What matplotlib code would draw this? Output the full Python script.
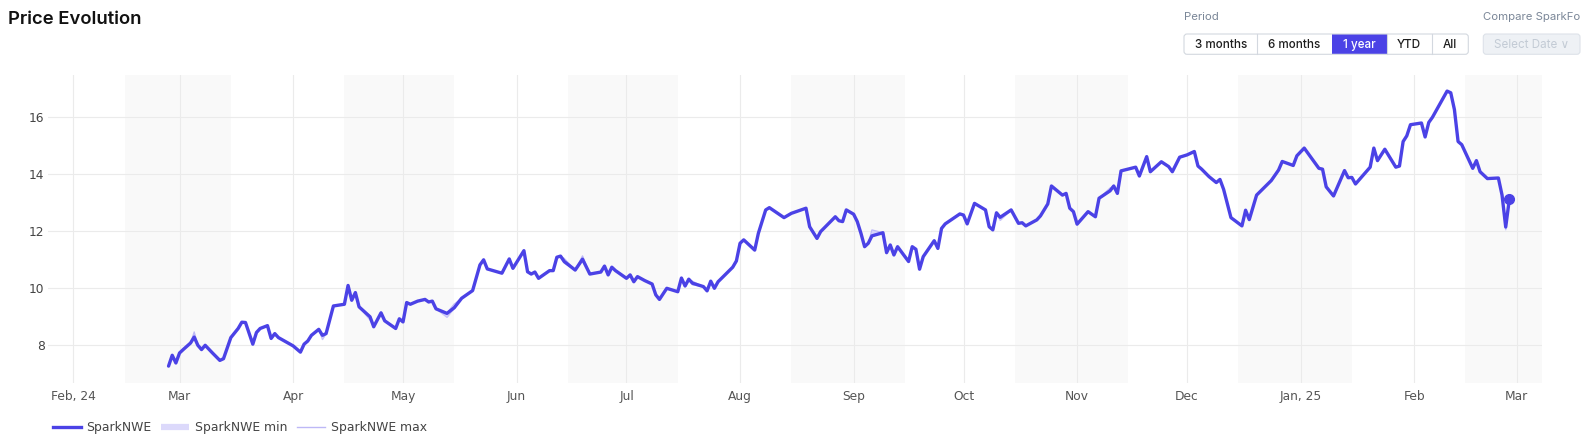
import numpy as np
import pandas as pd
import matplotlib
matplotlib.use("Agg")
import matplotlib.pyplot as plt
import matplotlib.dates as mdates
from matplotlib.lines import Line2D
from matplotlib.patches import FancyBboxPatch, Rectangle

W, H = 1591, 445
PURPLE = "#4b42e6"

# SparkNWE price vertices
nwe_dates = [
    "2024-02-27", "2024-02-28", "2024-02-29", "2024-03-01", "2024-03-02", "2024-03-04",
    "2024-03-05", "2024-03-06", "2024-03-07", "2024-03-08", "2024-03-10", "2024-03-12",
    "2024-03-13", "2024-03-15", "2024-03-17", "2024-03-18", "2024-03-19", "2024-03-21",
    "2024-03-22", "2024-03-23", "2024-03-25", "2024-03-26", "2024-03-27", "2024-03-28",
    "2024-04-01", "2024-04-03", "2024-04-04", "2024-04-05", "2024-04-06", "2024-04-08",
    "2024-04-09", "2024-04-10", "2024-04-12", "2024-04-15", "2024-04-16", "2024-04-17",
    "2024-04-18", "2024-04-19", "2024-04-22", "2024-04-23", "2024-04-25", "2024-04-26",
    "2024-04-29", "2024-04-30", "2024-05-01", "2024-05-02", "2024-05-03", "2024-05-05",
    "2024-05-07", "2024-05-08", "2024-05-09", "2024-05-10", "2024-05-13", "2024-05-15",
    "2024-05-17", "2024-05-20", "2024-05-22", "2024-05-23", "2024-05-24", "2024-05-28",
    "2024-05-30", "2024-05-31", "2024-06-03", "2024-06-04", "2024-06-05", "2024-06-06",
    "2024-06-07", "2024-06-10", "2024-06-11", "2024-06-12", "2024-06-13", "2024-06-14",
    "2024-06-17", "2024-06-19", "2024-06-21", "2024-06-24", "2024-06-25", "2024-06-26",
    "2024-06-27", "2024-06-28", "2024-07-01", "2024-07-02", "2024-07-03", "2024-07-04",
    "2024-07-06", "2024-07-08", "2024-07-09", "2024-07-10", "2024-07-12", "2024-07-15",
    "2024-07-16", "2024-07-17", "2024-07-18", "2024-07-19", "2024-07-22", "2024-07-23",
    "2024-07-24", "2024-07-25", "2024-07-26", "2024-07-30", "2024-07-31", "2024-08-01",
    "2024-08-02", "2024-08-05", "2024-08-06", "2024-08-08", "2024-08-09", "2024-08-13",
    "2024-08-15", "2024-08-19", "2024-08-20", "2024-08-22", "2024-08-23", "2024-08-27",
    "2024-08-28", "2024-08-29", "2024-08-30", "2024-09-01", "2024-09-02", "2024-09-03",
    "2024-09-04", "2024-09-05", "2024-09-06", "2024-09-09", "2024-09-10", "2024-09-11",
    "2024-09-12", "2024-09-13", "2024-09-16", "2024-09-17", "2024-09-18", "2024-09-19",
    "2024-09-20", "2024-09-23", "2024-09-24", "2024-09-25", "2024-09-26", "2024-09-30",
    "2024-10-01", "2024-10-02", "2024-10-04", "2024-10-07", "2024-10-08", "2024-10-09",
    "2024-10-10", "2024-10-11", "2024-10-14", "2024-10-16", "2024-10-17", "2024-10-18",
    "2024-10-21", "2024-10-22", "2024-10-24", "2024-10-25", "2024-10-28", "2024-10-29",
    "2024-10-30", "2024-10-31", "2024-11-01", "2024-11-04", "2024-11-06", "2024-11-07",
    "2024-11-10", "2024-11-11", "2024-11-12", "2024-11-13", "2024-11-17", "2024-11-18",
    "2024-11-20", "2024-11-21", "2024-11-24", "2024-11-26", "2024-11-27", "2024-11-29",
    "2024-12-01", "2024-12-03", "2024-12-04", "2024-12-05", "2024-12-07", "2024-12-09",
    "2024-12-10", "2024-12-11", "2024-12-13", "2024-12-16", "2024-12-17", "2024-12-18",
    "2024-12-20", "2024-12-24", "2024-12-26", "2024-12-27", "2024-12-30", "2024-12-31",
    "2025-01-02", "2025-01-06", "2025-01-07", "2025-01-08", "2025-01-10", "2025-01-13",
    "2025-01-14", "2025-01-15", "2025-01-16", "2025-01-20", "2025-01-21", "2025-01-22",
    "2025-01-24", "2025-01-27", "2025-01-28", "2025-01-29", "2025-01-30", "2025-01-31",
    "2025-02-03", "2025-02-04", "2025-02-05", "2025-02-06", "2025-02-10", "2025-02-11",
    "2025-02-12", "2025-02-13", "2025-02-14", "2025-02-17", "2025-02-18", "2025-02-19",
    "2025-02-21", "2025-02-24", "2025-02-25", "2025-02-26", "2025-02-27",
]
nwe_vals = [
    7.27, 7.65, 7.38, 7.73, 7.85, 8.08,
    8.29, 8.00, 7.85, 8.00, 7.73, 7.47,
    7.53, 8.27, 8.59, 8.81, 8.80, 8.04,
    8.45, 8.59, 8.69, 8.24, 8.41, 8.27,
    7.98, 7.76, 8.04, 8.15, 8.35, 8.56,
    8.35, 8.41, 9.38, 9.44, 10.10, 9.58,
    9.85, 9.35, 9.00, 8.65, 9.14, 8.86,
    8.59, 8.93, 8.82, 9.50, 9.44, 9.55,
    9.61, 9.52, 9.55, 9.28, 9.12, 9.32,
    9.65, 9.92, 10.82, 11.00, 10.68, 10.53,
    11.03, 10.70, 11.32, 10.58, 10.50, 10.57,
    10.35, 10.62, 10.62, 11.09, 11.13, 10.94,
    10.64, 11.02, 10.50, 10.57, 10.78, 10.47,
    10.74, 10.62, 10.35, 10.47, 10.23, 10.41,
    10.27, 10.15, 9.77, 9.61, 10.00, 9.88,
    10.36, 10.08, 10.32, 10.18, 10.06, 9.91,
    10.25, 10.00, 10.23, 10.74, 10.96, 11.58,
    11.70, 11.34, 11.93, 12.75, 12.83, 12.48,
    12.63, 12.81, 12.16, 11.75, 11.99, 12.51,
    12.37, 12.34, 12.75, 12.60, 12.34, 11.93,
    11.46, 11.58, 11.84, 11.95, 11.25, 11.52,
    11.17, 11.46, 10.94, 11.46, 11.37, 10.67,
    11.11, 11.67, 11.40, 12.10, 12.26, 12.61,
    12.57, 12.26, 12.98, 12.75, 12.16, 12.05,
    12.65, 12.49, 12.75, 12.28, 12.30, 12.19,
    12.40, 12.54, 12.96, 13.59, 13.27, 13.33,
    12.81, 12.69, 12.25, 12.69, 12.51, 13.16,
    13.42, 13.59, 13.33, 14.12, 14.25, 13.94,
    14.62, 14.09, 14.44, 14.27, 14.09, 14.60,
    14.68, 14.80, 14.29, 14.18, 13.92, 13.71,
    13.82, 13.47, 12.48, 12.19, 12.74, 12.41,
    13.27, 13.78, 14.15, 14.45, 14.31, 14.65,
    14.92, 14.21, 14.18, 13.56, 13.24, 14.13,
    13.88, 13.89, 13.66, 14.25, 14.92, 14.48,
    14.88, 14.25, 14.29, 15.15, 15.35, 15.74,
    15.80, 15.31, 15.82, 16.00, 16.92, 16.86,
    16.27, 15.15, 15.04, 14.21, 14.48, 14.09,
    13.85, 13.87, 13.27, 12.15, 13.13,
]

# where the min / max envelope shows from under the main line
band_dates = ["2024-03-05", "2024-04-09", "2024-04-22", "2024-05-13", "2024-05-15",
              "2024-06-14", "2024-06-19", "2024-07-19", "2024-09-06", "2024-10-11",
              "2024-11-10", "2025-02-26"]
band_lo = [8.25, 8.20, 8.88, 8.98, 9.30, 10.88, 10.98, 10.12, 11.82, 12.38, 13.40, 12.05]
band_hi = [8.47, 8.37, 9.02, 9.14, 9.45, 11.05, 11.14, 10.25, 12.05, 12.50, 13.52, 12.17]

month_ticks = pd.date_range("2024-02-01", "2025-03-01", freq="MS")
month_labels = ["Feb, 24", "Mar", "Apr", "May", "Jun", "Jul", "Aug", "Sep",
                "Oct", "Nov", "Dec", "Jan, 25", "Feb", "Mar"]
shade_start = ["2024-02-15", "2024-04-15", "2024-06-15", "2024-08-15",
               "2024-10-15", "2024-12-15", "2025-02-15"]
shade_end = ["2024-03-15", "2024-05-15", "2024-07-15", "2024-09-15",
             "2024-11-15", "2025-01-15", "2025-03-15"]

periods = ["3 months", "6 months", "1 year", "YTD", "All"]
selected = "1 year"

d = pd.to_datetime(nwe_dates)
v = np.array(nwe_vals)
s = pd.Series(v, index=d)
nwe_min = s.copy()
nwe_max = s.copy()
for bd, lo, hi in zip(band_dates, band_lo, band_hi):
    nwe_min[pd.Timestamp(bd)] = lo
    nwe_max[pd.Timestamp(bd)] = hi

fig = plt.figure(figsize=(W / 100, H / 100), dpi=100)

# overlay in pixel coords for header widgets
ov = fig.add_axes([0, 0, 1, 1])
ov.set_xlim(0, W)
ov.set_ylim(H, 0)
ov.axis("off")

ui_font = ["Inter", "DejaVu Sans"]
ov.text(8, 19.5, "Price Evolution", fontsize=13.3, fontweight="semibold",
        family=ui_font, color="#111111", va="center", ha="left")

ov.text(1184, 17.5, "Period", fontsize=8.2, family=ui_font, color="#7b8798",
        va="center", ha="left")
ov.text(1483, 17.5, "Compare SparkFo", fontsize=8.2, family=ui_font, color="#7b8798",
        va="center", ha="left")

edges = [1184, 1257.3, 1331.7, 1386.7, 1431.7, 1468.3]
by0, by1 = 34, 54.3
for i, p in enumerate(periods):
    x0, x1 = edges[i], edges[i + 1]
    if p == selected:
        ov.add_patch(Rectangle((x0, by0), x1 - x0, by1 - by0, facecolor=PURPLE,
                               edgecolor="none", zorder=2))
    elif i > 0:
        ov.plot([x0, x0], [by0, by1], color="#d3d8df", lw=0.8, zorder=3)
    ov.text((x0 + x1) / 2, (by0 + by1) / 2 + 0.5, p, fontsize=8.4, family=ui_font,
            fontweight="medium", color="white" if p == selected else "#1d1d1d",
            ha="center", va="center", zorder=4)
ov.add_patch(FancyBboxPatch((edges[0], by0), edges[-1] - edges[0], by1 - by0,
                            boxstyle="round,pad=0,rounding_size=3", facecolor="none",
                            edgecolor="#d3d8df", lw=0.8, zorder=3))

ov.add_patch(FancyBboxPatch((1483.3, by0), 96.7, by1 - by0,
                            boxstyle="round,pad=0,rounding_size=3", facecolor="#eef1f5",
                            edgecolor="#dde2e9", lw=0.8, zorder=2))
ov.text(1531.5, (by0 + by1) / 2 + 0.5, "Select Date \u2228", fontsize=8.4,
        family=ui_font, color="#c3cbd5", ha="center", va="center", zorder=4)

# main chart
left_px, right_px = 48.0, 1541.7
ax = fig.add_axes([left_px / W, 1 - 383 / H, (right_px - left_px) / W, (383 - 75) / H])
for a, b in zip(shade_start, shade_end):
    ax.axvspan(pd.Timestamp(a), pd.Timestamp(b), color="#f9f9f9", lw=0, zorder=0)

ax.fill_between(d, nwe_min.values, nwe_max.values, color="#d8d5fb", lw=0, zorder=2)
ax.plot(d, nwe_min.values, color="#c7c3f8", lw=0.9, zorder=3)
ax.plot(d, nwe_max.values, color="#bdb8f6", lw=0.9, zorder=3)
ax.plot(d, v, color=PURPLE, lw=2.4, solid_joinstyle="round", solid_capstyle="round", zorder=4)
ax.plot(d[-1:], v[-1:], "o", ms=7, color=PURPLE, zorder=5)

x_feb = mdates.date2num(pd.Timestamp("2024-02-01"))
x_mar = mdates.date2num(pd.Timestamp("2025-03-01"))
ppd = (1516.7 - 73.3) / (x_mar - x_feb)
ax.set_xlim(x_feb - (73.3 - left_px) / ppd, x_mar + (right_px - 1516.7) / ppd)
ax.set_ylim(16 - (383 - 117.3) / 28.5, 16 + (117.3 - 75) / 28.5)

ax.set_xticks(month_ticks)
ax.set_xticklabels(month_labels)
ax.set_yticks([8, 10, 12, 14, 16])
ax.grid(True, color="#ebebeb", lw=0.8, zorder=1)
ax.set_axisbelow(True)
for sp in ax.spines.values():
    sp.set_visible(False)
ax.set_facecolor("none")
ax.tick_params(axis="x", length=0, pad=5, labelsize=8.8, labelcolor="#555555")
ax.tick_params(axis="y", length=0, pad=2.5, labelsize=8.8, labelcolor="#444444")

handles = [
    Line2D([], [], color=PURPLE, lw=2.4),
    Line2D([], [], color="#dcd9fb", lw=4.5, solid_capstyle="butt"),
    Line2D([], [], color="#bdb8f6", lw=1.0),
]
leg = fig.legend(handles, ["SparkNWE", "SparkNWE min", "SparkNWE max"],
                 loc="center left", bbox_to_anchor=(53 / W, 1 - 428 / H), ncol=3,
                 frameon=False, fontsize=8.9, handlelength=2.25, handletextpad=0.45,
                 columnspacing=0.8, borderpad=0, borderaxespad=0)
for t in leg.get_texts():
    t.set_color("#444444")

fig.savefig("out.png", dpi=100)
